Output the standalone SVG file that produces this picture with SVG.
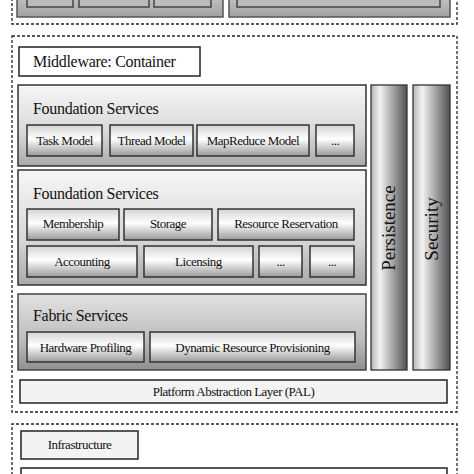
<svg xmlns="http://www.w3.org/2000/svg" width="474" height="474" viewBox="0 0 474 474">
<defs>
<linearGradient id="gPanel" x1="0" y1="0" x2="0" y2="1">
<stop offset="0" stop-color="#f6f6f6"/><stop offset="0.6" stop-color="#d8d8d8"/><stop offset="1" stop-color="#a9a9a9"/>
</linearGradient>
<linearGradient id="gFabric" x1="0" y1="0" x2="0" y2="1">
<stop offset="0" stop-color="#e2e2e2"/><stop offset="0.6" stop-color="#bdbdbd"/><stop offset="1" stop-color="#8f8f8f"/>
</linearGradient>
<linearGradient id="gBtn" x1="0" y1="0" x2="0" y2="1">
<stop offset="0" stop-color="#d4d4d4"/><stop offset="0.45" stop-color="#ffffff"/><stop offset="1" stop-color="#9a9a9a"/>
</linearGradient>
<linearGradient id="gCol" x1="0" y1="0" x2="1" y2="0">
<stop offset="0" stop-color="#b5b5b5"/><stop offset="0.25" stop-color="#f2f2f2"/><stop offset="1" stop-color="#505050"/>
</linearGradient>
<linearGradient id="gTop" x1="0" y1="0" x2="0" y2="1">
<stop offset="0" stop-color="#c8c8c8"/><stop offset="1" stop-color="#a0a0a0"/>
</linearGradient>
</defs>
<style>
.dash{fill:none;stroke:#222;stroke-width:1.3;stroke-dasharray:3 2}
.panel{fill:url(#gPanel);stroke:#333;stroke-width:1.5}
.fabric{fill:url(#gFabric);stroke:#444;stroke-width:1.5}
.btn{fill:url(#gBtn);stroke:#333;stroke-width:1.5}
.col{fill:url(#gCol);stroke:#333;stroke-width:1.3}
.plain{fill:#f3f3f3;stroke:#222;stroke-width:1.5}
.white{fill:#fff;stroke:#222;stroke-width:1.5}
text{font-family:"Liberation Serif","Times New Roman",serif;fill:#111}
.t{font-size:16px;letter-spacing:-0.3px}
.s{font-size:13px;text-anchor:middle;letter-spacing:-0.5px}
.v{font-size:19px;text-anchor:middle}
</style>
<g id="top-layer">
<path class="dash" d="M12,-2 V24 H457 V-2"/>
<rect x="17" y="-6" width="206" height="23" fill="url(#gTop)" stroke="#555" stroke-width="1.5"/>
<rect x="229" y="-6" width="221" height="23" fill="url(#gTop)" stroke="#555" stroke-width="1.5"/>
<rect x="27" y="-6" width="46" height="13" fill="#bbb" stroke="#444" stroke-width="1.5"/>
<rect x="79" y="-6" width="70" height="13" fill="#bbb" stroke="#444" stroke-width="1.5"/>
<rect x="154" y="-6" width="57" height="13" fill="#bbb" stroke="#444" stroke-width="1.5"/>
<rect x="237" y="-6" width="203" height="13" fill="#bbb" stroke="#444" stroke-width="1.5"/>
</g>
<g id="middleware">
<rect class="dash" x="12" y="36" width="445" height="376"/>
<rect class="white" x="19" y="47" width="181" height="29"/>
<text class="t" x="33" y="67">Middleware: Container</text>
</g>
<g id="foundation1">
<rect class="panel" x="18" y="85" width="348" height="81"/>
<text class="t" x="33" y="114">Foundation Services</text>
<rect class="btn" x="27" y="125" width="75" height="31"/><text class="s" x="64.5" y="145">Task Model</text>
<rect class="btn" x="110" y="125" width="83" height="31"/><text class="s" x="151.5" y="145">Thread Model</text>
<rect class="btn" x="197" y="125" width="112" height="31"/><text class="s" x="253" y="145">MapReduce Model</text>
<rect class="btn" x="316" y="125" width="38" height="31"/><text class="s" x="335" y="145">...</text>
</g>
<g id="foundation2">
<rect class="panel" x="18" y="170" width="348" height="115"/>
<text class="t" x="33" y="199">Foundation Services</text>
<rect class="btn" x="27" y="209" width="92" height="31"/><text class="s" x="73" y="228">Membership</text>
<rect class="btn" x="124" y="209" width="88" height="31"/><text class="s" x="168" y="228">Storage</text>
<rect class="btn" x="218" y="209" width="136" height="31"/><text class="s" x="286" y="228">Resource Reservation</text>
<rect class="btn" x="27" y="246" width="110" height="31"/><text class="s" x="82" y="266">Accounting</text>
<rect class="btn" x="144" y="246" width="109" height="31"/><text class="s" x="198.5" y="266">Licensing</text>
<rect class="btn" x="259" y="246" width="43" height="31"/><text class="s" x="280.5" y="266">...</text>
<rect class="btn" x="310" y="246" width="44" height="31"/><text class="s" x="332" y="266">...</text>
</g>
<g id="fabric">
<rect class="fabric" x="18" y="294" width="348" height="76"/>
<text class="t" x="33" y="321">Fabric Services</text>
<rect class="btn" x="27" y="332" width="117" height="30"/><text class="s" x="85.5" y="352">Hardware Profiling</text>
<rect class="btn" x="150" y="332" width="205" height="30"/><text class="s" x="252.5" y="352">Dynamic Resource Provisioning</text>
</g>
<g id="persistence">
<rect class="col" x="371" y="85" width="36" height="285"/>
<text class="v" transform="translate(395,228) rotate(-90)">Persistence</text>
</g>
<g id="security">
<rect class="col" x="413" y="85" width="37" height="285"/>
<text class="v" transform="translate(438,229) rotate(-90)">Security</text>
</g>
<g id="pal">
<rect class="plain" x="20" y="380" width="427" height="23"/>
<text class="s" x="233.5" y="396">Platform Abstraction Layer (PAL)</text>
</g>
<g id="infrastructure">
<path class="dash" d="M12,480 V424 H457 V480"/>
<rect class="plain" x="21" y="431" width="117" height="28"/>
<text class="s" x="79.5" y="449">Infrastructure</text>
<rect class="white" x="21" y="468" width="426" height="20"/>
</g>
</svg>
